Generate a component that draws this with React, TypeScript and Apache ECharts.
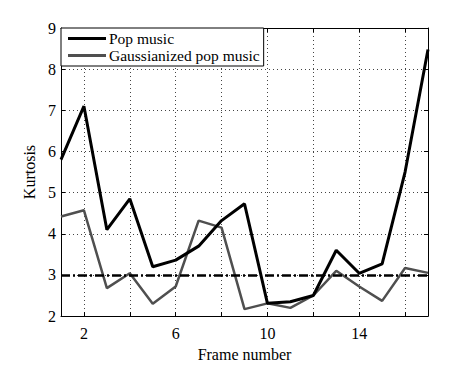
import React, { useEffect, useRef } from "react";
import * as echarts from "echarts";

const frames = [1, 2, 3, 4, 5, 6, 7, 8, 9, 10, 11, 12, 13, 14, 15, 16, 17];
const popMusic = [5.8, 7.1, 4.1, 4.85, 3.2, 3.36, 3.7, 4.32, 4.73, 2.31, 2.35, 2.5, 3.6, 3.04, 3.27, 5.5, 8.48];
const gaussPop = [4.42, 4.57, 2.68, 3.04, 2.3, 2.72, 4.32, 4.15, 2.17, 2.31, 2.2, 2.5, 3.1, 2.72, 2.37, 3.17, 3.05];
const xTickValues = [2, 4, 6, 8, 10, 12, 14, 16];
const xLabelValues = [2, 6, 10, 14];
const gaussianLevel = 3;
const yMin = 2;
const yMax = 9;

const FONT = "Liberation Serif";

export default function App() {
  const ref = useRef<HTMLDivElement>(null);
  useEffect(() => {
    const chart = echarts.init(ref.current!, null, { renderer: "svg" });
    const tick = { show: true, inside: true, length: 4, lineStyle: { color: "#000", width: 1 } };
    const gridLine = { color: "#444", type: [1, 3], width: 1 };
    chart.setOption({
      animation: false,
      backgroundColor: "#fff",
      textStyle: { fontFamily: FONT },
      grid: { left: 61, right: 46, top: 28, bottom: 40, containLabel: false },
      legend: {
        data: ["Pop music", "Gaussianized pop music"],
        orient: "vertical",
        left: 61,
        top: 28,
        z: 100,
        itemWidth: 38,
        itemHeight: 3,
        itemGap: 0,
        padding: [2, 4, 2, 7],
        backgroundColor: "#fff",
        borderColor: "#000",
        borderWidth: 1,
        icon: "rect",
        textStyle: { fontFamily: FONT, fontSize: 15.5, lineHeight: 17, color: "#000", padding: [0, 0, 0, -2] },
      },
      xAxis: [
        {
          type: "value",
          min: 1,
          max: 17,
          splitNumber: 8,
          name: "Frame number",
          nameLocation: "middle",
          nameGap: 14,
          nameTextStyle: { fontFamily: FONT, fontSize: 16, color: "#000" },
          axisLine: { show: true, onZero: false, lineStyle: { color: "#000", width: 1 } },
          axisTick: tick,
          axisLabel: { customValues: xLabelValues, fontFamily: FONT, fontSize: 16, color: "#000", margin: 9 },
          splitLine: { show: true, lineStyle: gridLine },
        },
        {
          type: "value",
          min: 1,
          max: 17,
          position: "top",
          axisLine: { show: true, onZero: false, lineStyle: { color: "#000", width: 1 } },
          axisTick: { ...tick, customValues: xTickValues },
          axisLabel: { show: false },
          splitLine: { show: false },
        },
      ],
      yAxis: [
        {
          type: "value",
          min: yMin,
          max: yMax,
          interval: 1,
          name: "Kurtosis",
          nameLocation: "middle",
          nameGap: 11,
          nameTextStyle: { fontFamily: FONT, fontSize: 16, color: "#000" },
          axisLine: { show: true, onZero: false, lineStyle: { color: "#000", width: 1 } },
          axisTick: tick,
          axisLabel: { fontFamily: FONT, fontSize: 16, color: "#000", margin: 5 },
          splitLine: { show: true, lineStyle: gridLine },
        },
        {
          type: "value",
          min: yMin,
          max: yMax,
          interval: 1,
          position: "right",
          axisLine: { show: true, onZero: false, lineStyle: { color: "#000", width: 1 } },
          axisTick: tick,
          axisLabel: { show: false },
          splitLine: { show: false },
        },
      ],
      series: [
        {
          name: "reference",
          type: "line",
          data: [],
          silent: true,
          z: 1,
          markLine: {
            silent: true,
            symbol: "none",
            label: { show: false },
            lineStyle: { color: "#000", width: 2.5, type: [9, 3, 2, 3] },
            data: [{ yAxis: gaussianLevel }],
          },
        },
        {
          name: "Gaussianized pop music",
          type: "line",
          data: frames.map((f, i) => [f, gaussPop[i]]),
          showSymbol: false,
          symbol: "none",
          z: 3,
          itemStyle: { color: "#4f4f4f" },
          lineStyle: { color: "#4f4f4f", width: 2.5 },
        },
        {
          name: "Pop music",
          type: "line",
          data: frames.map((f, i) => [f, popMusic[i]]),
          showSymbol: false,
          symbol: "none",
          z: 4,
          itemStyle: { color: "#000" },
          lineStyle: { color: "#000", width: 3 },
        },
      ],
    });
    return () => chart.dispose();
  }, []);
  return <div ref={ref} style={{ position: "fixed", left: 0, top: 0, width: 474, height: 367 }} />;
}
